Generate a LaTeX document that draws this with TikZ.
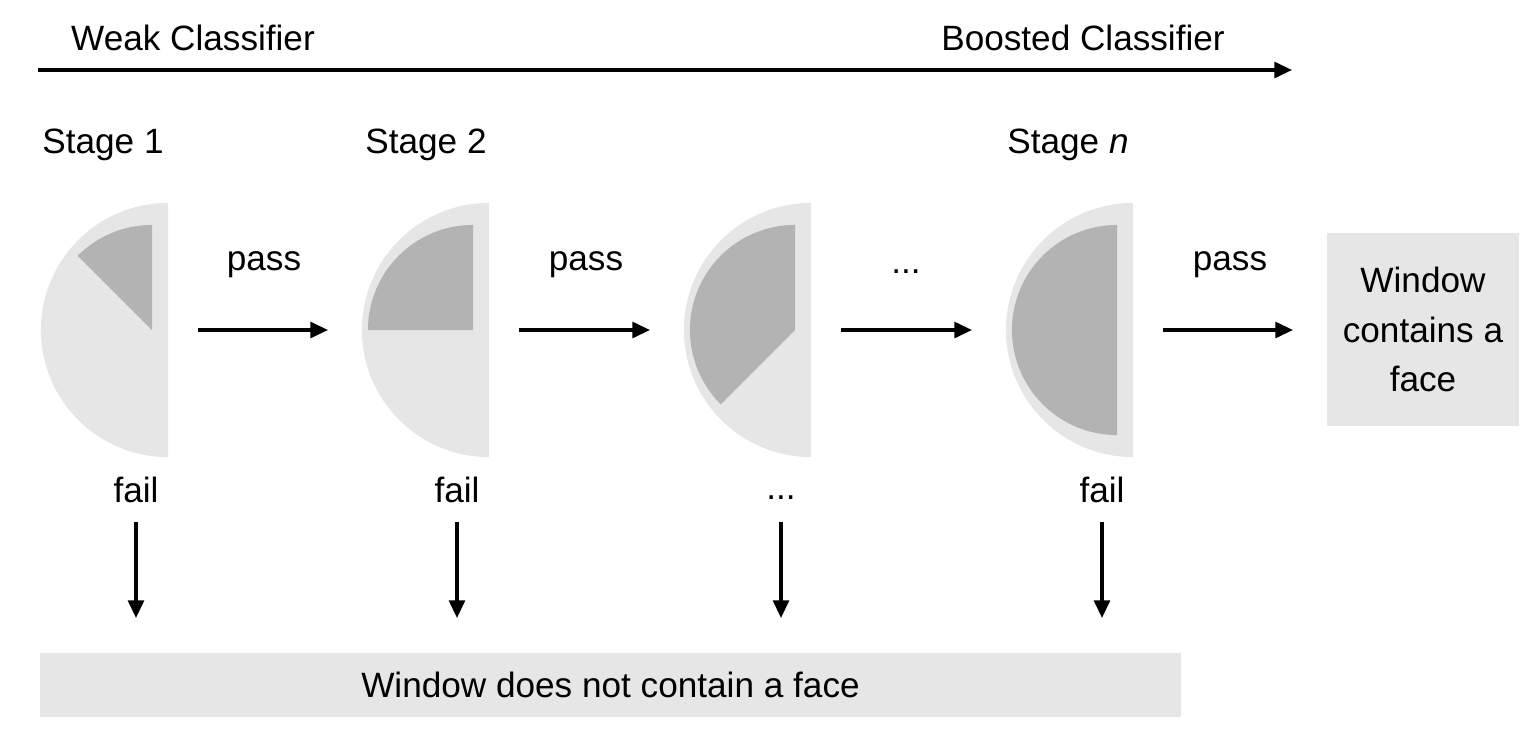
\documentclass[tikz,border=0pt]{standalone}
\usepackage{fontspec}
\setmainfont{Liberation Sans}
\usetikzlibrary{arrows.meta}
\definecolor{lg}{HTML}{E6E6E6}
\definecolor{dg}{HTML}{B3B3B3}
\newcommand{\mydots}{...}
\begin{document}
\begin{tikzpicture}[x=0.01cm,y=-0.01cm,
  lbl/.style={font=\fontsize{10}{12}\selectfont, inner sep=0pt},
  arr/.style={line width=0.9pt,-{Triangle[length=5pt,width=4.5pt]}},
  box/.style={fill=lg, inner sep=0pt}]
\useasboundingbox (0,0) rectangle (1536,739);
% stages
\foreach \xo/\ang/\n in {168/135/a,489/180/b,811/225/c,1133/270/d}{
  \coordinate (o\n) at (\xo,330);
  \coordinate (i\n) at (\xo-16,330);
  \fill[lg] (o\n) -- ++(90:1.27cm) arc[start angle=90,end angle=270,radius=1.27cm] -- cycle;
  \fill[dg] (i\n) -- ++(90:1.05cm) arc[start angle=90,end angle=\ang,radius=1.05cm] -- cycle;
}
\node[lbl] (wc) at (193,38) {Weak Classifier};
\node[lbl] (bc) at (1083,38) {Boosted Classifier};
\coordinate (t1) at (38,70); \coordinate (t2) at (1292,70);
\draw[arr] (t1) -- (t2);
\node[lbl] (s1) at (103,145) {Stage 1};
\node[lbl] (s2) at (426,145) {Stage 2};
\node[lbl] (sn) at (1068,145) {Stage \textit{n}};
\node[lbl] (p1) at (264,265) {pass};
\node[lbl] (p2) at (586,265) {pass};
\node[lbl] (p3) at (906,272) {\mydots};
\node[lbl] (p4) at (1230,265) {pass};
\node[box, minimum width=1.92cm, minimum height=1.93cm, align=center, font=\fontsize{10}{14}\selectfont] (yes) at (1423,329.5) {Window\\contains a\\face};
\node[box, minimum width=11.41cm, minimum height=0.64cm, font=\fontsize{10}{12}\selectfont] (no) at (610.5,685) {Window does not contain a face};
\foreach \a/\b/\n in {198/328/1,519/650/2,841/972/3,1163/1293/4}{
  \coordinate (ha\n) at (\a,330); \coordinate (hb\n) at (\b,330);
  \draw[arr] (ha\n) -- (hb\n);
}
\foreach \x/\t/\y/\n in {136/fail/490/1,457/fail/490/2,781/\mydots/498/3,1102/fail/490/4}{
  \node[lbl] (f\n) at (\x,\y) {\t};
  \coordinate (va\n) at (\x,522); \coordinate (vb\n) at (\x,618);
  \draw[arr] (va\n) -- (vb\n);
}
\end{tikzpicture}
\end{document}
